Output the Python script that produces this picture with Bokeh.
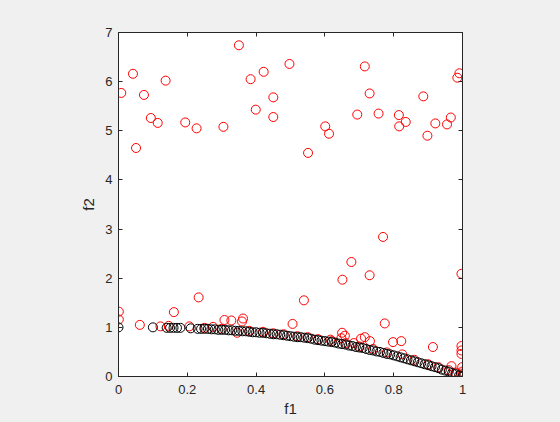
from bokeh.plotting import figure
from bokeh.models import LinearAxis, FixedTicker, Range1d
from bokeh.embed import file_html
from bokeh.resources import INLINE

# ---- data ----
red_f1 = [0.008, 0.042, 0.051, 0.074, 0.094, 0.114, 0.137, 0.194, 0.227, 0.305,
          0.350, 0.384, 0.399, 0.422, 0.450, 0.450, 0.497,
          0.716, 0.730, 0.694, 0.756, 0.601, 0.612, 0.551, 0.815, 0.816, 0.835,
          0.886, 0.898, 0.921, 0.955, 0.966, 0.985, 0.991,
          0.001, 0.001, 0.062, 0.161, 0.233, 0.308, 0.328, 0.362, 0.359, 0.506,
          0.122, 0.146, 0.206, 0.275,
          0.539, 0.769, 0.677, 0.651, 0.730, 0.997, 0.774,
          0.650, 0.658, 0.648, 0.705, 0.716, 0.731, 0.798, 0.822, 0.914, 0.616, 0.684,
          0.997, 0.997, 0.997, 0.968, 0.999, 0.999, 0.825,
          0.25, 0.30, 0.345, 0.38, 0.42, 0.45, 0.48, 0.52, 0.55, 0.58, 0.62, 0.66,
          0.70, 0.74, 0.78, 0.86, 0.90, 0.93, 0.96, 0.98, 1.0, 1.0, 0.995]
red_f2 = [5.77, 6.16, 4.65, 5.73, 5.26, 5.16, 6.02, 5.17, 5.05, 5.08,
          6.74, 6.05, 5.43, 6.20, 5.68, 5.28, 6.36,
          6.31, 5.76, 5.33, 5.35, 5.09, 4.94, 4.55, 5.32, 5.09, 5.18,
          5.70, 4.90, 5.15, 5.13, 5.27, 6.08, 6.17,
          1.32, 1.16, 1.05, 1.31, 1.61, 1.15, 1.14, 1.18, 1.12, 1.07,
          1.02, 1.03, 1.02, 1.01,
          1.55, 2.84, 2.33, 1.97, 2.06, 2.09, 1.08,
          0.89, 0.83, 0.78, 0.77, 0.80, 0.72, 0.70, 0.72, 0.60, 0.75, 0.68,
          0.62, 0.53, 0.46, 0.21, 0.19, 0.10, 0.45,
          0.99, 0.97, 0.89, 0.93, 0.91, 0.88, 0.86, 0.82, 0.80, 0.76, 0.72, 0.68,
          0.61, 0.56, 0.49, 0.34, 0.25, 0.19, 0.13, 0.08, 0.04, 0.01, 0.06]

black_f1 = [0.00, 0.10, 0.14, 0.15, 0.16, 0.17, 0.18, 0.21, 0.23, 0.24,
            0.25, 0.26, 0.27, 0.28, 0.29, 0.30, 0.31, 0.32, 0.33, 0.34,
            0.35, 0.36, 0.37, 0.38, 0.39, 0.40, 0.41, 0.42, 0.43, 0.44,
            0.45, 0.46, 0.47, 0.48, 0.49, 0.50, 0.51, 0.52, 0.53, 0.54,
            0.55, 0.56, 0.57, 0.58, 0.59, 0.60, 0.61, 0.62, 0.63, 0.64,
            0.65, 0.66, 0.67, 0.68, 0.69, 0.70, 0.71, 0.72, 0.73, 0.74,
            0.75, 0.76, 0.77, 0.78, 0.79, 0.80, 0.81, 0.82, 0.83, 0.84,
            0.85, 0.86, 0.87, 0.88, 0.89, 0.90, 0.91, 0.92, 0.93, 0.94,
            0.95, 0.96, 0.97, 0.98, 0.99, 1.00]
black_f2 = [1.00, 1.00, 0.99, 0.99, 0.99, 0.99, 0.99, 0.98, 0.97, 0.97,
            0.97, 0.97, 0.96, 0.96, 0.95, 0.95, 0.95, 0.94, 0.94, 0.93,
            0.93, 0.92, 0.92, 0.91, 0.90, 0.90, 0.89, 0.89, 0.88, 0.87,
            0.86, 0.86, 0.85, 0.84, 0.83, 0.82, 0.81, 0.80, 0.80, 0.79,
            0.78, 0.77, 0.75, 0.74, 0.73, 0.72, 0.71, 0.70, 0.69, 0.67,
            0.66, 0.65, 0.63, 0.62, 0.60, 0.59, 0.58, 0.56, 0.54, 0.53,
            0.51, 0.50, 0.48, 0.46, 0.45, 0.43, 0.41, 0.39, 0.37, 0.35,
            0.33, 0.31, 0.29, 0.27, 0.25, 0.23, 0.21, 0.19, 0.17, 0.14,
            0.12, 0.10, 0.07, 0.05, 0.02, 0.00]

x_ticks = [0, 0.2, 0.4, 0.6, 0.8, 1]
x_labels = ["0", "0.2", "0.4", "0.6", "0.8", "1"]
y_ticks = [0, 1, 2, 3, 4, 5, 6, 7]

AX = "#262626"
FONT = "Liberation Sans"
BG = "#f0f0f0"

p = figure(width=560, height=422, output_backend="svg", toolbar_location=None,
           x_range=Range1d(0, 1), y_range=Range1d(0, 7),
           min_border_left=118, min_border_right=98, min_border_top=32,
           min_border_bottom=46, background_fill_color="white",
           border_fill_color=BG, outline_line_color=AX)
p.grid.visible = False

p.scatter(red_f1, red_f2, marker="circle", size=9, fill_color=None,
          line_color="#ff0000", line_width=1)
p.scatter(black_f1, black_f2, marker="circle", size=9, fill_color=None,
          line_color="#000000", line_width=1)

def style(ax, labels=True):
    ax.axis_line_color = AX
    ax.major_tick_line_color = AX
    ax.major_tick_in = 4
    ax.major_tick_out = 0
    ax.minor_tick_line_color = None
    ax.major_label_text_font = FONT
    ax.major_label_text_font_size = "13px"
    ax.major_label_text_color = AX
    ax.axis_label_text_font = FONT
    ax.axis_label_text_font_size = "15px"
    ax.axis_label_text_font_style = "normal"
    ax.axis_label_text_color = AX
    if not labels:
        ax.major_label_text_alpha = 0

xa = p.xaxis[0]
xa.ticker = FixedTicker(ticks=x_ticks)
xa.major_label_overrides = {t: l for t, l in zip(x_ticks, x_labels)}
xa.axis_label = "f1"
xa.major_label_standoff = 8
xa.axis_label_standoff = 3
style(xa)

ya = p.yaxis[0]
ya.ticker = FixedTicker(ticks=y_ticks)
ya.axis_label = "f2"
ya.major_label_standoff = 6
ya.axis_label_standoff = 5
style(ya)

top = LinearAxis(ticker=FixedTicker(ticks=x_ticks))
style(top, labels=False)
top.major_label_text_font_size = "0px"
p.add_layout(top, "above")
right = LinearAxis(ticker=FixedTicker(ticks=y_ticks))
style(right, labels=False)
right.major_label_text_font_size = "0px"
p.add_layout(right, "right")

html = file_html(p, INLINE)
html = html.replace("</head>", "<style>body{background:#f0f0f0;}</style></head>", 1)
open("out.html", "w").write(html)
